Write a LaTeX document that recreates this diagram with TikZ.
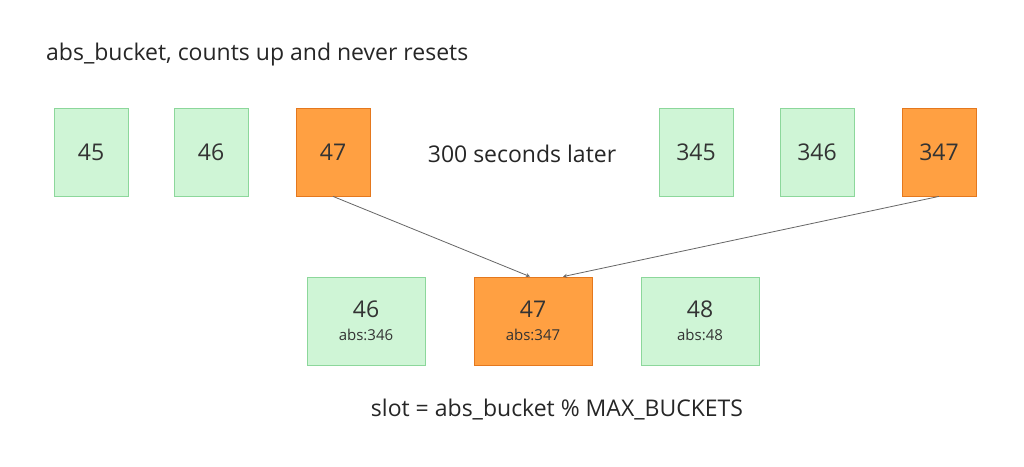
\documentclass[tikz,border=0pt]{standalone}
\usepackage{fontspec}
\setmainfont{Open Sans}
\definecolor{gfill}{RGB}{207,245,214}
\definecolor{gdraw}{RGB}{140,215,155}
\definecolor{ofill}{RGB}{255,160,66}
\definecolor{odraw}{RGB}{228,120,30}
\begin{document}
\begin{tikzpicture}[x=1pt,y=-1pt,
  box/.style={line width=0.8pt, minimum width=74pt, minimum height=88pt, inner sep=0pt, font=\fontsize{23}{26}\selectfont, text=black!80},
  g/.style={box, fill=gfill, draw=gdraw},
  o/.style={box, fill=ofill, draw=odraw},
  wide/.style={minimum width=118pt},
  arr/.style={draw=black!60, line width=0.8pt, -stealth},
  big/.style={font=\fontsize{23}{26}\selectfont, text=black!85}]
\useasboundingbox[fill=white] (0,0) rectangle (1024,466);
\node[anchor=west, big, inner sep=0pt] (title) at (46,55) {abs\_bucket, counts up and never resets};
\node[g] (a45) at (91,152) {45};
\node[g] (a46) at (211,152) {46};
\node[o] (a47) at (333,152) {47};
\node[big] (later) at (522,154) {300 seconds later};
\node[g] (a345) at (696,152) {345};
\node[g] (a346) at (817,152) {346};
\node[o] (a347) at (939,152) {347};
\node[g,wide,align=center] (b46) at (366,321) {46\\[-3pt]{\fontsize{15}{17}\selectfont abs:346}};
\node[o,wide,align=center] (b47) at (533,321) {47\\[-3pt]{\fontsize{15}{17}\selectfont abs:347}};
\node[g,wide,align=center] (b48) at (700,321) {48\\[-3pt]{\fontsize{15}{17}\selectfont abs:48}};
\node[big] (slot) at (557,410) {slot = abs\_bucket \% MAX\_BUCKETS};
\draw[arr] (a47.south) -- ([xshift=-3pt]b47.north);
\draw[arr] (a347.south) -- ([xshift=30pt]b47.north);
\end{tikzpicture}
\end{document}
